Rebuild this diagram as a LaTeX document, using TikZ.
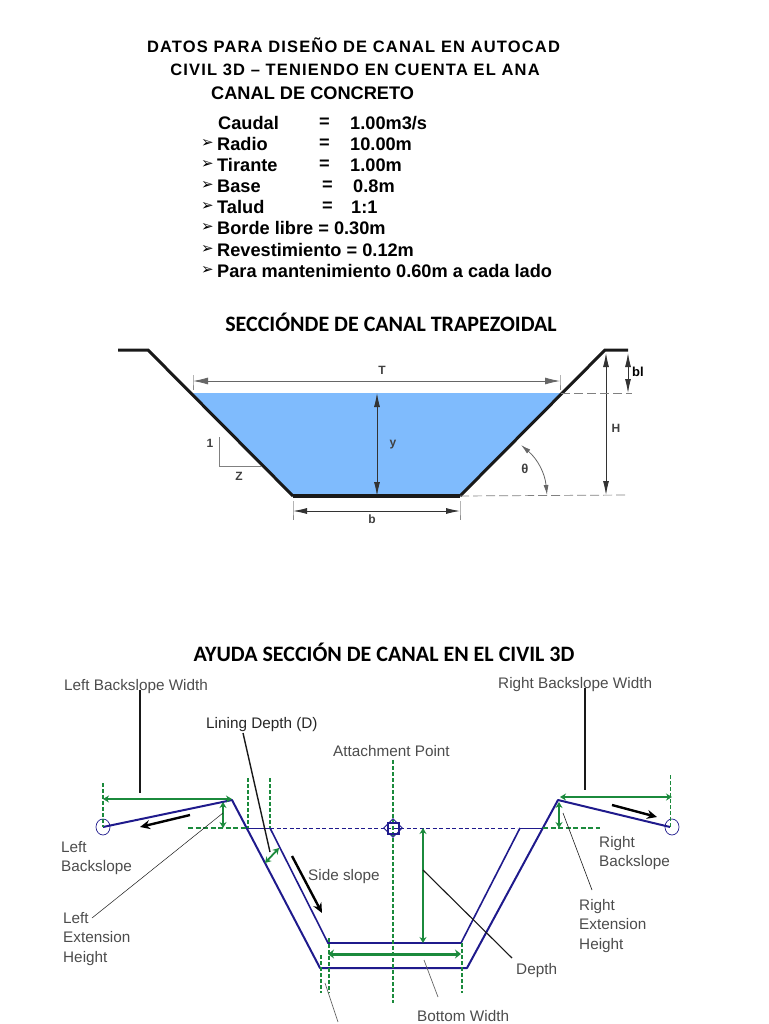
\documentclass[tikz,border=0pt]{standalone}
\usepackage{fontspec}
\setmainfont{Liberation Sans}
\newfontfamily\titlefont[LetterSpace=7]{Liberation Sans}
\newfontfamily\headfont{Carlito}
\newfontfamily\dingfont{DejaVu Sans}
\usetikzlibrary{
    positioning,
    arrows.meta,
    shapes.geometric
}
\definecolor{watercolor}{HTML}{7FBBFD}
\definecolor{civilgreen}{HTML}{1B8A3C}
\definecolor{civilblue}{HTML}{1F1A8C}
\tikzset{
    titletext/.style={
        font=\titlefont\bfseries\fontsize{16.5}{19}\selectfont, text=black
    },
    datatext/.style={
        anchor=west, inner sep=0pt, font=\bfseries\fontsize{18.2}{21}\selectfont
    },
    bullet/.style={
        anchor=west, inner sep=0pt, font=\dingfont\bfseries\fontsize{15}{17}\selectfont
    },
    headtext/.style={
        font=\headfont\bfseries\fontsize{22}{26}\selectfont
    },
    dimtext/.style={
        font=\bfseries\fontsize{12}{14}\selectfont, text=black!75, inner sep=0pt
    },
    labeltext/.style={
        anchor=west, align=left, inner sep=0pt, text=black!70,
        font=\fontsize{15.3}{19.5}\selectfont
    },
    canalwall/.style={
        line width=3pt, black!90
    },
    dimline/.style={
        {Latex[length=15pt,width=7pt]}-{Latex[length=15pt,width=7pt]}, line width=0.8pt, black!60
    },
    dimlinedark/.style={
        {Latex[length=14pt,width=6pt]}-{Latex[length=14pt,width=6pt]}, line width=0.9pt, black!80
    },
    thinline/.style={
        line width=0.6pt, black!45
    },
    dashline/.style={
        dash pattern=on 9pt off 4pt, line width=0.7pt, black!50
    },
    blueline/.style={
        line width=2pt, civilblue
    },
    greenarrow/.style={
        {Stealth[length=6pt,width=7pt]}-{Stealth[length=6pt,width=7pt]}, line width=1.3pt, civilgreen
    },
    greendash/.style={
        dash pattern=on 3.5pt off 2.5pt, line width=1.2pt, civilgreen
    },
    leader/.style={
        line width=1.1pt, black!90
    },
    motion/.style={
        -{Stealth[length=10pt,width=9pt]}, line width=2.4pt, black
    }
}

\begin{document}
\begin{tikzpicture}[x=1pt, y=-1pt]
	\useasboundingbox (0,0) rectangle (768,1024);

	% TITLES
	\node (title1) [titletext] at (353.5,45) {DATOS PARA DISEÑO DE CANAL EN AUTOCAD};
	\node (title2) [titletext] at (355,70) {CIVIL 3D – TENIENDO EN CUENTA EL ANA};
	\node (title3) [datatext] at (211,93) {CANAL DE CONCRETO};

	% DATA LIST
	\node (caudal) [datatext] at (218,123) {Caudal};
	\node (caudaleq) [datatext] at (319,123) {=};
	\node (caudalval) [datatext] at (350,123) {1.00m3/s};
	\node (bradio) [bullet] at (201,144) {➢};
	\node (radio) [datatext] at (217,144) {Radio};
	\node (radioeq) [datatext] at (319,144) {=};
	\node (radioval) [datatext] at (350,144) {10.00m};
	\node (btirante) [bullet] at (201,165) {➢};
	\node (tirante) [datatext] at (217,165) {Tirante};
	\node (tiranteeq) [datatext] at (319,165) {=};
	\node (tiranteval) [datatext] at (350,165) {1.00m};
	\node (bbase) [bullet] at (201,186) {➢};
	\node (base) [datatext] at (217,186) {Base};
	\node (baseeq) [datatext] at (322,186) {=};
	\node (baseval) [datatext] at (353,186) {0.8m};
	\node (btalud) [bullet] at (201,207) {➢};
	\node (talud) [datatext] at (217,207) {Talud};
	\node (taludeq) [datatext] at (322,207) {=};
	\node (taludval) [datatext] at (351,207) {1:1};
	\node (bborde) [bullet] at (201,228) {➢};
	\node (borde) [datatext] at (217,228) {Borde libre = 0.30m};
	\node (brev) [bullet] at (201,250) {➢};
	\node (rev) [datatext] at (217,250) {Revestimiento = 0.12m};
	\node (bmant) [bullet] at (201,271) {➢};
	\node (mant) [datatext] at (217,271) {Para mantenimiento 0.60m a cada lado};

	% TRAPEZOIDAL SECTION
	\node (head1) [headtext] at (391,322.5) {SECCIÓNDE DE CANAL TRAPEZOIDAL};

	\coordinate (tl0) at (118,350);
	\coordinate (tl) at (148,350);
	\coordinate (bl) at (293,496);
	\coordinate (br) at (460,496);
	\coordinate (tr) at (605,350);
	\coordinate (tr0) at (628,350);
	\coordinate (wl) at (192,393);
	\coordinate (wr) at (561,393);

	\fill[watercolor] (wl) -- (wr) -- (br) -- (bl) -- cycle;
	\draw[canalwall] (tl0) -- (tl) -- (bl);
	\draw[canalwall] (br) -- (tr) -- (tr0);
	\draw[canalwall, line width=4pt] (bl) -- (br);

	% dimensions
	\coordinate (ta) at (193,381);
	\coordinate (tb) at (560,381);
	\draw[dimline] (ta) -- (tb);
	\draw[thinline] (193,375) -- (ta) -- (193,390);
	\draw[thinline] (560,375) -- (tb) -- (560,390);
	\node (tlabel) [dimtext] at (382,370) {T};

	\coordinate (ya) at (377,393);
	\coordinate (yb) at (377,496);
	\draw[dimlinedark] (ya) -- (yb);
	\node (ylabel) [dimtext] at (393,445) {y};

	\coordinate (ba) at (293,511);
	\coordinate (bb) at (460,511);
	\draw[dimlinedark] (ba) -- (bb);
	\draw[thinline] (293,501) -- (ba) -- (293,520);
	\draw[thinline] (460,501) -- (bb) -- (460,520);
	\node (blabel) [dimtext] at (372,519) {b};

	\coordinate (ha) at (606,353);
	\coordinate (hb) at (606,495);
	\draw[dimlinedark] (ha) -- (hb);
	\node (hlabel) [dimtext] at (616,428) {H};

	\coordinate (fa) at (628,353);
	\coordinate (fb) at (628,393);
	\draw[dimlinedark] (fa) -- (fb);
	\node (fblabel) [dimtext, font=\bfseries\fontsize{13}{15}\selectfont, text=black] at (638,372) {bl};

	\draw[dashline] (wr) -- (632,393);
	\draw[dashline] (br) -- (628,495);

	\coordinate (tha) at (547,495);
	\coordinate (thb) at (521,445);
	\draw[dimline, {Latex[length=10pt,width=5pt]}-{Latex[length=10pt,width=5pt]}] (tha) to[bend right=22] (thb);
	\node (thlabel) [dimtext, font=\bfseries\fontsize{13}{15}\selectfont] at (525,469) {θ};

	\coordinate (za) at (219,437);
	\coordinate (zb) at (219,466);
	\coordinate (zc) at (262,466);
	\draw[line width=0.7pt, black!50] (za) -- (zb) -- (zc);
	\node (onelabel) [dimtext] at (210,443) {1};
	\node (zlabel) [dimtext] at (239,476) {Z};

	% CIVIL 3D SECTION
	\node (head2) [headtext] at (384,652.5) {AYUDA SECCIÓN DE CANAL EN EL CIVIL 3D};

	\coordinate (lout) at (103,827);
	\coordinate (ltop) at (232,800);
	\coordinate (lbot) at (320,968);
	\coordinate (rbot) at (467,968);
	\coordinate (rtop) at (558,800);
	\coordinate (rout) at (670,827);
	\coordinate (ilt) at (270,828);
	\coordinate (ilb) at (328,943);
	\coordinate (irb) at (461,943);
	\coordinate (irt) at (520,828);

	\draw[blueline, line join=round] (lout) -- (ltop) -- (lbot) -- (rbot) -- (rtop) -- (rout);
	\draw[blueline, line width=1.6pt] (ilt) -- (ilb) -- (irb) -- (irt);
	\draw[civilblue, line width=1pt, dash pattern=on 4pt off 2.5pt] (270,828) -- (517,828);
	\draw[civilblue, line width=0.8pt] (248,828) -- (ilt);
	\draw[civilblue, line width=0.8pt] (irt) -- (543,828);
	\node (lcircle) [draw=civilblue, ellipse, line width=0.7pt, inner sep=0pt, minimum width=14pt, minimum height=16pt] at (lout) {};
	\node (rcircle) [draw=civilblue, ellipse, line width=0.7pt, inner sep=0pt, minimum width=14pt, minimum height=16pt] at (672,827) {};

	% attachment marker
	\draw[greendash, line width=1.6pt] (393,760) -- (393,1003);
	\node (attach) [draw=civilblue, line width=2pt, inner sep=0pt, minimum size=11pt] at (393,828) {};
	\node (attachd) [draw=civilblue, diamond, line width=0.9pt, inner sep=0pt, minimum size=19pt] at (393,828) {};

	% green guides
	\draw[greendash] (103,783) -- (lout);
	\draw[greendash] (248,778) -- (248,828);
	\draw[greendash] (270,778) -- (270,828);
	\draw[greendash, dash pattern=on 5pt off 2.5pt] (188,828) -- (248,828);
	\draw[greendash, dash pattern=on 5pt off 2.5pt] (543,828) -- (600,828);
	\draw[greendash, line width=0.9pt] (670,775) -- (rout);
	\draw[greendash] (329,938) -- (329,993);
	\draw[greendash] (321,955) -- (321,993);
	\draw[greendash] (462,943) -- (462,993);

	% green dimensions
	\draw[greenarrow] (103,799) -- (232,799);
	\draw[greenarrow] (223,802) -- (223,828);
	\draw[greenarrow] (560,797) -- (672,797);
	\draw[greenarrow] (559,802) -- (559,828);
	\draw[greenarrow, line width=1.8pt] (265,863) -- (279,848);
	\draw[greenarrow, line width=3pt, {Stealth[length=6pt,width=9pt]}-{Stealth[length=6pt,width=9pt]}] (328,954) -- (461,954);
	\draw[greenarrow, line width=2pt] (423,828) -- (423,943);

	% black motion arrows
	\draw[motion] (190,815) -- (140,827);
	\draw[motion] (292,856) -- (322,913);
	\draw[motion] (612,805) -- (657,817);

	% LABELS
	\node (lwidth) [labeltext] at (64,687) {Left Backslope Width};
	\node (lining) [labeltext, text=black!85] at (206,725) {Lining Depth (D)};
	\node (attachtext) [labeltext] at (333,751) {Attachment Point};
	\node (rwidth) [labeltext] at (498,685) {Right Backslope Width};
	\node (lback) [labeltext] at (61,858) {Left\\Backslope};
	\node (lext) [labeltext] at (63,939) {Left\\Extension\\Height};
	\node (side) [labeltext] at (308,877) {Side slope};
	\node (rback) [labeltext] at (599,853) {Right\\Backslope};
	\node (rext) [labeltext] at (579,926) {Right\\Extension\\Height};
	\node (depth) [labeltext] at (516,971) {Depth};
	\node (bwidth) [labeltext] at (417,1016) {Bottom Width};

	% LEADERS
	\draw[leader] (140,690) -- (140,793);
	\draw[leader, line width=1.4pt] (243,733) -- (270,852);
	\draw[leader, line width=0.5pt] (223,813) -- (92,918);
	\draw[leader] (585,688) -- (585,790);
	\draw[leader, line width=0.6pt] (563,813) -- (592,890);
	\draw[leader] (423,870) -- (512,958);
	\draw[leader, line width=0.7pt, black!60] (424,960) -- (438,997);
	\draw[leader, line width=0.7pt, black!60] (325,983) -- (338,1022);
\end{tikzpicture}
\end{document}
